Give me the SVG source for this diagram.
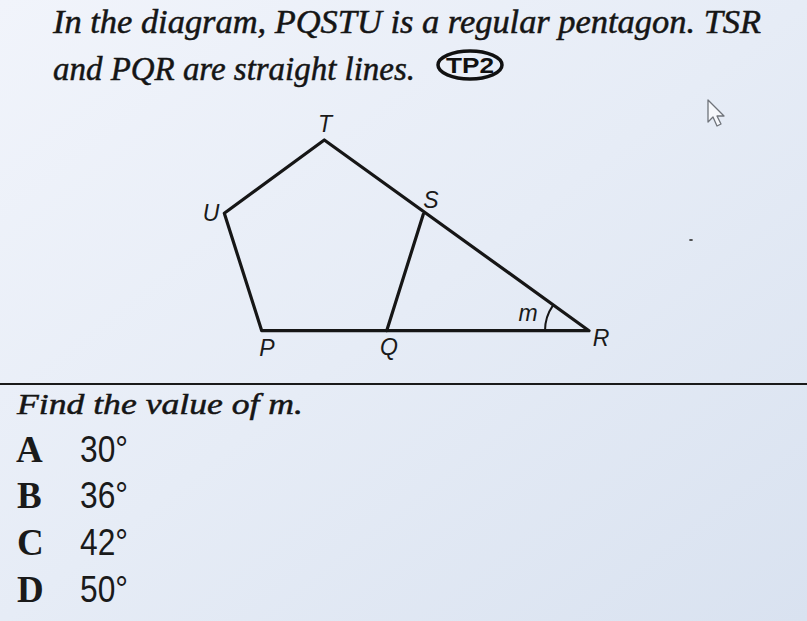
<svg xmlns="http://www.w3.org/2000/svg" width="807" height="621" viewBox="0 0 807 621">
  <defs>
    <linearGradient id="bg" x1="0" y1="0" x2="1" y2="1">
      <stop offset="0" stop-color="#f1f4fb"/>
      <stop offset="0.5" stop-color="#e6ecf6"/>
      <stop offset="1" stop-color="#d9e2f0"/>
    </linearGradient>
    <style>
      .q { font-family: "Liberation Serif", "DejaVu Serif", serif; font-style: italic; fill: #151515; stroke: #151515; stroke-width: 0.5; }
      .lbl { font-family: "Liberation Sans", Arial, sans-serif; font-style: italic; font-size: 23px; fill: #1a1a1a; text-anchor: middle; }
      .edge { stroke: #161616; stroke-width: 3.2; fill: none; stroke-linecap: round; stroke-linejoin: round; }
      .opt { font-family: "Liberation Serif", "Times New Roman", serif; font-weight: bold; font-size: 37px; fill: #1a1a1a; }
      .val { font-family: "Liberation Sans", Arial, sans-serif; font-size: 36px; fill: #1a1a1a; }
    </style>
  </defs>
  <rect width="807" height="621" fill="url(#bg)"/>

  <!-- question text -->
  <g id="question">
    <text class="q" x="53" y="33" font-size="33" textLength="708" lengthAdjust="spacingAndGlyphs">In the diagram, PQSTU is a regular pentagon. TSR</text>
    <text class="q" x="53" y="80" font-size="33" textLength="362" lengthAdjust="spacingAndGlyphs">and PQR are straight lines.</text>
  </g>
  <g id="badge">
    <ellipse cx="470" cy="65" rx="32" ry="14" fill="none" stroke="#111" stroke-width="3.5"/>
    <text x="470" y="73" font-family="Liberation Sans, Arial, sans-serif" font-weight="bold" font-size="22" text-anchor="middle" fill="#111" textLength="48" lengthAdjust="spacingAndGlyphs">TP2</text>
  </g>

  <!-- cursor -->
  <g id="cursor">
    <path d="M708,100 L708,122 L713,117 L717,126 L721,124 L717,116 L724,116 Z" fill="#f6f8fc" stroke="#6f737a" stroke-width="1.3" stroke-linejoin="round"/>
  </g>
  <ellipse cx="691" cy="240" rx="2" ry="1" fill="#444"/>

  <!-- figure -->
  <g id="connectors">
    <path class="edge" d="M261.7,330.7 L224.3,213.3 L324.3,140 L589,330.7 Z"/>
    <line class="edge" x1="386.7" y1="330.7" x2="423.3" y2="214.3"/>
    <path d="M545,330.7 A44,44 0 0 1 553,305.4" fill="none" stroke="#161616" stroke-width="2"/>
  </g>
  <g id="T"><text class="lbl" x="325" y="132">T</text></g>
  <g id="U"><text class="lbl" x="211" y="221">U</text></g>
  <g id="S"><text class="lbl" x="431" y="208">S</text></g>
  <g id="P"><text class="lbl" x="267" y="356">P</text></g>
  <g id="Q"><text class="lbl" x="389" y="355">Q</text></g>
  <g id="R"><text class="lbl" x="601" y="346">R</text></g>
  <g id="m"><text class="lbl" x="528" y="321">m</text></g>

  <!-- separator -->
  <line x1="0" y1="384" x2="807" y2="384" stroke="#1a1a1a" stroke-width="2"/>

  <g id="prompt">
    <text class="q" x="17" y="414" font-size="30" textLength="286" lengthAdjust="spacingAndGlyphs">Find the value of m.</text>
  </g>
  <g id="optA"><text class="opt" x="16" y="462">A</text><text class="val" x="80" y="462" textLength="48" lengthAdjust="spacingAndGlyphs">30°</text></g>
  <g id="optB"><text class="opt" x="17" y="508">B</text><text class="val" x="80" y="508" textLength="48" lengthAdjust="spacingAndGlyphs">36°</text></g>
  <g id="optC"><text class="opt" x="17" y="555">C</text><text class="val" x="80" y="555" textLength="48" lengthAdjust="spacingAndGlyphs">42°</text></g>
  <g id="optD"><text class="opt" x="17" y="602">D</text><text class="val" x="80" y="602" textLength="48" lengthAdjust="spacingAndGlyphs">50°</text></g>
</svg>
